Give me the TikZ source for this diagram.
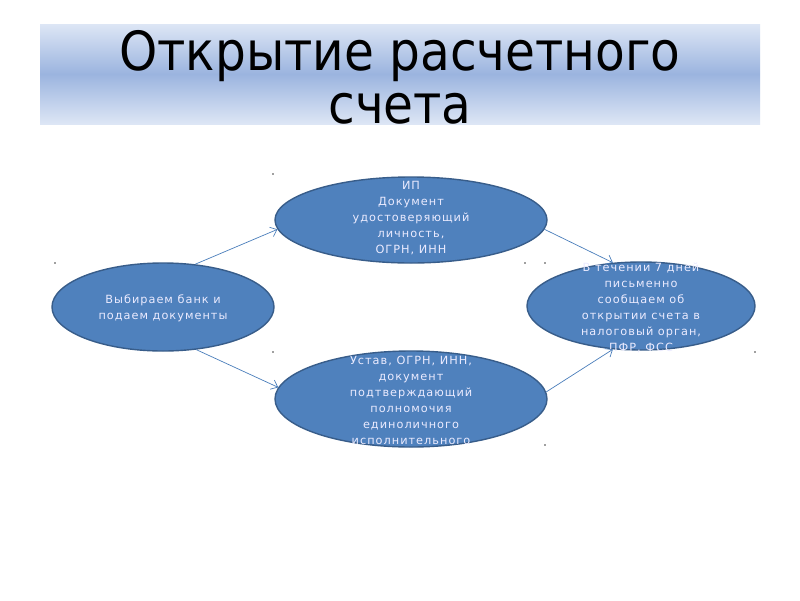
\documentclass[tikz,border=0pt]{standalone}
\usepackage{fontspec}
\usetikzlibrary{shapes.geometric,arrows.meta}
\newfontfamily\titlefont{DejaVu Sans Condensed}
\newfontfamily\bodyfont[LetterSpace=9]{DejaVu Sans}
\definecolor{ellfill}{HTML}{4F81BD}
\definecolor{elldraw}{HTML}{385D8A}
\definecolor{arrcol}{HTML}{4A7EBB}
\definecolor{banlight}{HTML}{DDE6F5}
\definecolor{bandark}{HTML}{9BB4DF}
\tikzset{
  ell/.style={ellipse, fill=ellfill, draw=elldraw, line width=1.4pt, inner sep=0pt},
  elltext/.style={text=white!92!blue, align=center, font=\bodyfont\fontsize{11.3}{16}\selectfont, inner sep=0pt},
  conn/.style={draw=arrcol, line width=0.7pt, -{Straight Barb[length=6pt,width=10pt]}},
  smalldot/.style={circle, fill=black!75, inner sep=0pt, minimum size=1.8pt}
}
\begin{document}
\begin{tikzpicture}[x=1pt,y=-1pt]
\useasboundingbox (0,0) rectangle (800,600);
\fill[white] (0,0) rectangle (800,600);
% title banner
\shade[top color=banlight, bottom color=banlight, middle color=bandark] (40,24) rectangle (760,124);
\node[font=\titlefont\fontsize{54}{53}\selectfont, align=center, inner sep=0pt, anchor=base] (title1) at (400,70) {Открытие расчетного};
\node[font=\titlefont\fontsize{54}{53}\selectfont, align=center, inner sep=0pt, anchor=base] (title2) at (400,123) {счета};
% ellipses
\node[ell, minimum width=222pt, minimum height=88pt] (left) at (163,307) {};
\node[ell, minimum width=272pt, minimum height=86pt] (top) at (411,220) {};
\node[ell, minimum width=272pt, minimum height=96pt] (bottom) at (411,399) {};
\node[ell, minimum width=228pt, minimum height=88pt] (right) at (641,306) {};
% texts
\node[elltext] (leftT) at (163,308) {Выбираем банк и\\подаем документы};
\node[elltext] (topT) at (411,218) {ИП\\Документ\\удостоверяющий\\личность,\\ОГРН, ИНН};
\node[elltext] (bottomT) at (411,400) {Устав, ОГРН, ИНН,\\документ\\подтверждающий\\полномочия\\единоличного\\исполнительного};
\node[elltext] (rightT) at (641,307.5) {В течении 7 дней\\письменно\\сообщаем об\\открытии счета в\\налоговый орган,\\ПФР, ФСС};
% connectors
\draw[conn] (left.53) -- (top.184);
\draw[conn] (left.308) -- (bottom.175);
\draw[conn] (top.356) -- (right.123);
\draw[conn] (bottom.3) -- (right.237);
% small dots
\node[smalldot] (d1) at (273,174) {};
\node[smalldot] (d2) at (55,263) {};
\node[smalldot] (d3) at (525,263) {};
\node[smalldot] (d4) at (545,263) {};
\node[smalldot] (d5) at (273,352) {};
\node[smalldot] (d6) at (755,352) {};
\node[smalldot] (d7) at (545,445) {};
\end{tikzpicture}
\end{document}
